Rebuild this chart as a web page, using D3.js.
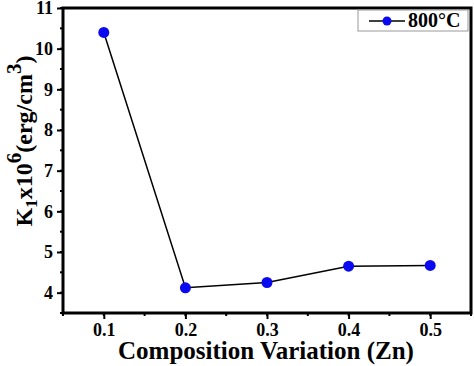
<!DOCTYPE html>
<html><head><meta charset="utf-8">
<script src="https://cdn.jsdelivr.net/npm/d3@7"></script>
<style>body{margin:0;background:#fff}</style>
</head><body>
<script>
const xValues = [0.1, 0.2, 0.3, 0.4, 0.5];
const yValues = [10.4, 4.12, 4.25, 4.65, 4.67];
const xTicks = [0.1, 0.2, 0.3, 0.4, 0.5];
const yTicks = [4, 5, 6, 7, 8, 9, 10, 11];
const seriesName = "800°C";

const W = 474, H = 366;
const m = {left: 63, right: 3, top: 8, bottom: 53};
const svg = d3.select("body").append("svg").attr("width", W).attr("height", H);
const x = d3.scaleLinear().domain([0.05, 0.55]).range([m.left, W - m.right]);
const y = d3.scaleLinear().domain([3.5, 11]).range([H - m.bottom, m.top]);
const font = "'Liberation Serif', 'Times New Roman', serif";

// minor ticks
const xMinor = d3.range(0.05, 0.551, 0.05);
const yMinor = d3.range(3.5, 11.01, 0.5);
const g = svg.append("g");
g.selectAll(".xm").data(xMinor).join("line")
  .attr("x1", d => x(d)).attr("x2", d => x(d))
  .attr("y1", y(3.5)).attr("y2", y(3.5) + 3)
  .attr("stroke", "#000").attr("stroke-width", 2);
g.selectAll(".ym").data(yMinor).join("line")
  .attr("y1", d => y(d)).attr("y2", d => y(d))
  .attr("x1", x(0.05)).attr("x2", x(0.05) - 3)
  .attr("stroke", "#000").attr("stroke-width", 2);

const xAxis = svg.append("g").attr("transform", `translate(0,${y(3.5)})`)
  .call(d3.axisBottom(x).tickValues(xTicks).tickFormat(d3.format(".1f")).tickSize(6).tickPadding(4));
const yAxis = svg.append("g").attr("transform", `translate(${x(0.05)},0)`)
  .call(d3.axisLeft(y).tickValues(yTicks).tickFormat(d3.format("d")).tickSize(6).tickPadding(4));
[xAxis, yAxis].forEach(a => {
  a.select(".domain").remove();
  a.selectAll(".tick line").attr("stroke", "#000").attr("stroke-width", 2);
  a.selectAll("text").attr("font-family", font).attr("font-weight", "bold")
    .attr("font-size", 18).attr("fill", "#000");
});

// frame
svg.append("rect").attr("x", x(0.05)).attr("y", y(11))
  .attr("width", x(0.55) - x(0.05)).attr("height", y(3.5) - y(11))
  .attr("fill", "none").attr("stroke", "#000").attr("stroke-width", 3);

// line and markers
const line = d3.line().x((d, i) => x(xValues[i])).y(d => y(d));
svg.append("path").datum(yValues).attr("d", line)
  .attr("fill", "none").attr("stroke", "#000").attr("stroke-width", 1.5);
svg.selectAll(".pt").data(yValues).join("circle")
  .attr("cx", (d, i) => x(xValues[i])).attr("cy", d => y(d)).attr("r", 5.5)
  .attr("fill", "#0a0af0");

// legend
const lg = svg.append("g");
lg.append("rect").attr("x", 358).attr("y", 10).attr("width", 110).attr("height", 21)
  .attr("fill", "#fff").attr("stroke", "#999").attr("stroke-width", 1);
lg.append("line").attr("x1", 369).attr("x2", 405).attr("y1", 21).attr("y2", 21)
  .attr("stroke", "#000").attr("stroke-width", 1.5);
lg.append("circle").attr("cx", 387).attr("cy", 21).attr("r", 4.5).attr("fill", "#0a0af0");
lg.append("text").attr("x", 408).attr("y", 27).text(seriesName)
  .attr("font-family", font).attr("font-weight", "bold").attr("font-size", 20);

// axis titles
svg.append("text").attr("x", 266).attr("y", 359)
  .attr("text-anchor", "middle").attr("font-family", font).attr("font-weight", "bold")
  .attr("font-size", 25).text("Composition Variation (Zn)");

const yt = svg.append("text").attr("transform", `translate(32,141) rotate(-90)`)
  .attr("text-anchor", "middle").attr("font-family", font).attr("font-weight", "bold")
  .attr("font-size", 24);
yt.append("tspan").text("K");
yt.append("tspan").attr("font-size", 17).attr("dy", 5).text("1");
yt.append("tspan").attr("dy", -5).text("x10");
yt.append("tspan").attr("font-size", 21).attr("dy", -11).text("6");
yt.append("tspan").attr("dy", 11).text("(erg/cm");
yt.append("tspan").attr("font-size", 21).attr("dy", -11).text("3");
yt.append("tspan").attr("dy", 11).text(")");
</script>
</body></html>
